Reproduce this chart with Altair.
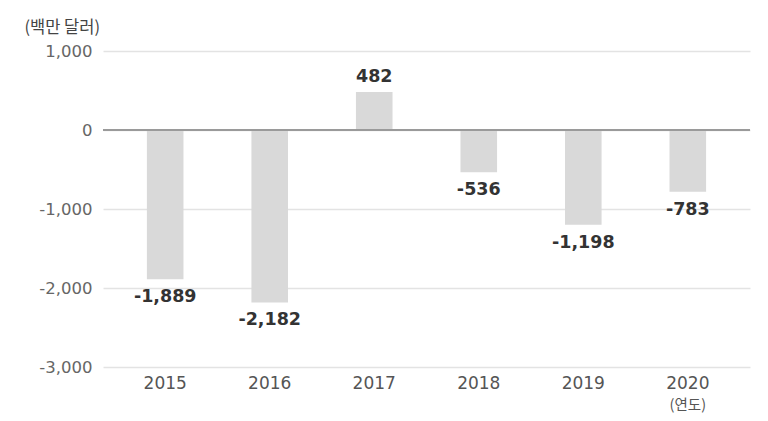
import altair as alt
import pandas as pd

years = ["2015", "2016", "2017", "2018", "2019", "2020"]
values = [-1889, -2182, 482, -536, -1198, -783]
y_ticks = [1000, 0, -1000, -2000, -3000]
unit_label = "(백만 달러)"
year_label = "(연도)"

NUM_FONT = "DejaVu Sans"
KR_FONT = "Noto Sans CJK KR"

df = pd.DataFrame({"year": years, "value": values})
df["label"] = [f"{v:,}" for v in values]

x_enc = alt.X(
    "year:N",
    sort=years,
    title=None,
    scale=alt.Scale(paddingInner=0.65, paddingOuter=0.42),
    axis=alt.Axis(
        labelAngle=0, domain=False, ticks=False, labelPadding=8,
        labelFontSize=17, labelColor="#555555", labelFont=NUM_FONT, grid=False,
    ),
)
y_enc = alt.Y(
    "value:Q",
    title=None,
    scale=alt.Scale(domain=[-3000, 1000], nice=False),
    axis=alt.Axis(
        values=y_ticks,
        labelExpr="replace(format(datum.value, ',.0f'), '\u2212', '-')",
        domain=False, ticks=False, labelPadding=11,
        labelFontSize=16.5, labelColor="#666666", labelFont=NUM_FONT,
        grid=True, gridColor="#e3e3e3", gridWidth=1.5,
    ),
)

base = alt.Chart(df)

bars = base.mark_bar(color="#d9d9d9").encode(x=x_enc, y=y_enc)

zero = alt.Chart(df).mark_rule(color="#9a9a9a", strokeWidth=2).encode(y=alt.datum(0))

pos_labels = base.transform_filter("datum.value >= 0").mark_text(
    baseline="bottom", dy=-6, fontSize=17.5, fontWeight="bold", color="#333333", font=NUM_FONT
).encode(x=alt.X("year:N", sort=years), y="value:Q", text="label:N")

neg_labels = base.transform_filter("datum.value < 0").mark_text(
    baseline="top", dy=9, fontSize=17.5, fontWeight="bold", color="#333333", font=NUM_FONT
).encode(x=alt.X("year:N", sort=years), y="value:Q", text="label:N")

unit_df = pd.DataFrame({"t": [unit_label]})
unit = alt.Chart(unit_df).mark_text(
    align="right", baseline="middle", fontSize=16.5, color="#444444", font=KR_FONT
).encode(x=alt.value(-3), y=alt.value(-23), text="t:N")

yr_df = pd.DataFrame({"year": ["2020"], "t": [year_label]})
yr = alt.Chart(yr_df).mark_text(
    baseline="middle", fontSize=14.5, color="#555555", font=KR_FONT
).encode(x=alt.X("year:N", sort=years), y=alt.value(354.5), text="t:N")

chart = alt.layer(bars, zero, pos_labels, neg_labels, unit, yr).properties(
    width=647, height=316,
    autosize=alt.AutoSizeParams(type="none"),
    padding={"left": 95, "top": 43, "right": 10, "bottom": 46},
).configure(background="white").configure_view(stroke=None, strokeWidth=0)

chart.save("out.html", embed_options={"renderer": "svg", "actions": False})
